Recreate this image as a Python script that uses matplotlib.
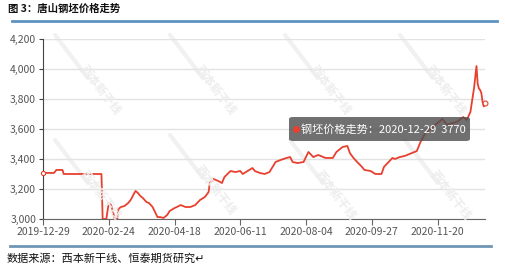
import matplotlib
matplotlib.use("Agg")
import matplotlib.pyplot as plt
from matplotlib.patches import FancyBboxPatch
from matplotlib.lines import Line2D

plt.rcParams['font.family'] = ['Noto Sans CJK SC', 'DejaVu Sans']

# ---- data (category index along the axis, price) ----
day_index = [0, 9, 11, 16, 17, 48, 49, 52, 54, 56, 57, 59, 61, 62, 64, 67, 70, 72, 75, 76,
             78, 80, 82, 85, 87, 90, 92, 94, 96, 99, 102, 104, 108, 110, 113, 115, 117, 121,
             125, 129, 133, 136, 137, 140, 144, 147, 149, 154, 158, 162, 164, 168, 172, 174,
             178, 182, 186, 191, 195, 200, 203, 205, 209, 214, 218, 222, 226, 232, 238, 241,
             246, 250, 252, 255, 258, 262, 264, 269, 273, 278, 280, 287, 289, 293, 297, 303,
             307, 310, 314, 318, 321, 324, 328, 332, 336, 340, 345, 348, 351, 354, 356, 357,
             358, 359, 360, 361, 362, 363]
price = [3307, 3307, 3327, 3327, 3300, 3300, 3000, 3000, 3107, 3093, 3060, 3000, 3000, 3067,
         3080, 3087, 3107, 3127, 3173, 3187, 3173, 3153, 3140, 3113, 3107, 3080, 3047, 3013,
         3013, 3007, 3027, 3053, 3073, 3080, 3093, 3087, 3080, 3080, 3093, 3127, 3147, 3180,
         3240, 3267, 3253, 3240, 3280, 3320, 3313, 3320, 3300, 3320, 3340, 3320, 3307, 3300,
         3313, 3380, 3393, 3407, 3413, 3380, 3373, 3380, 3447, 3413, 3427, 3407, 3407, 3447,
         3480, 3487, 3440, 3407, 3380, 3347, 3327, 3320, 3300, 3300, 3347, 3407, 3400, 3413,
         3420, 3440, 3453, 3513, 3573, 3600, 3620, 3640, 3667, 3627, 3640, 3647, 3680, 3660,
         3713, 3873, 4020, 3900, 3870, 3860, 3840, 3780, 3750, 3770]

tick_pos = [0, 54, 108, 162, 216, 270, 324]
tick_labels = ['2019-12-29', '2020-02-24', '2020-04-18', '2020-06-11',
               '2020-08-04', '2020-09-27', '2020-11-20']
y_ticks = [3000, 3200, 3400, 3600, 3800, 4000, 4200]
y_labels = ['3,000', '3,200', '3,400', '3,600', '3,800', '4,000', '4,200']
series_name = '钢坯价格走势'
tip_date = '2020-12-29'
tip_value = 3770

W, H = 506, 268
fig = plt.figure(figsize=(W / 100, H / 100), dpi=100)
fig.patch.set_facecolor('white')

ax = fig.add_axes([43 / W, 1 - 219 / H, (485 - 43) / W, (219 - 39) / H])
ax.set_facecolor('none')

# watermarks
wm_pos = [(100, 90), (215, 90), (330, 90), (445, 90), (100, 195), (215, 190), (335, 195), (450, 195)]
for (px, py) in wm_pos:
    fig.text(px / W, 1 - py / H, '西本新干线', rotation=-52, fontsize=8.5, color='#ededed',
             ha='center', va='center', zorder=0, fontweight='bold')
    fig.add_artist(Line2D([(px - 45) / W, (px - 12) / W], [1 - (py - 55) / H, 1 - (py - 12) / H],
                          color='#f1f1f1', lw=3, zorder=0, solid_capstyle='round'))

ax.plot(day_index, price, color='#e8402f', lw=1.3, zorder=3, solid_joinstyle='round')
ax.plot([day_index[0]], [price[0]], marker='o', ms=3, mfc='white', mec='#e8402f', mew=0.8,
        zorder=4, clip_on=False)
ax.plot([day_index[-1]], [price[-1]], marker='o', ms=3.5, mfc='white', mec='#e8402f', mew=0.8,
        zorder=4, clip_on=False)

ax.set_xlim(0, 363)
ax.set_ylim(3000, 4200)
ax.set_yticks(y_ticks)
ax.set_yticklabels(y_labels)
ax.set_xticks(tick_pos)
ax.set_xticklabels(tick_labels)
ax.grid(axis='y', color='#e2e2e2', lw=1)
ax.set_axisbelow(True)
for s in ['top', 'right']:
    ax.spines[s].set_visible(False)
ax.spines['left'].set_color('#444444')
ax.spines['bottom'].set_color('#666666')
ax.tick_params(axis='y', length=3, color='#444444', labelsize=7.5, labelcolor='#555555', pad=2)
ax.tick_params(axis='x', length=4, color='#666666', labelsize=7.5, labelcolor='#555555', pad=2)

# tooltip
tip = FancyBboxPatch((289 / W, 1 - 141 / H), 181 / W, 24 / H,
                     boxstyle='round,pad=0,rounding_size=0.008', transform=fig.transFigure,
                     facecolor='#505050', edgecolor='none', alpha=0.82, zorder=10)
fig.add_artist(tip)
fig.add_artist(Line2D([296 / W], [1 - 129.5 / H], marker='o', ms=4, color='#e8402f',
                      transform=fig.transFigure, zorder=11))
fig.text(301 / W, 1 - 129.5 / H, f'{series_name}：{tip_date}  {tip_value}', color='white',
         fontsize=8, ha='left', va='center', zorder=11)

# title and decorations
fig.text(8 / W, 1 - 9 / H, '图 3：唐山钢坯价格走势', fontsize=7.5, fontweight='bold',
         ha='left', va='center', color='#111111')
fig.add_artist(Line2D([12 / W, 497 / W], [1 - 20.5 / H, 1 - 20.5 / H], color='#5f92c2', lw=2))
fig.add_artist(Line2D([10 / W, 491 / W], [1 - 246 / H, 1 - 246 / H], color='#6f97b5', lw=2))
fig.text(7 / W, 1 - 259 / H, '数据来源：西本新干线、恒泰期货研究↵', fontsize=8,
         ha='left', va='center', color='#111111')

fig.savefig('out.png', dpi=100, facecolor='white')
